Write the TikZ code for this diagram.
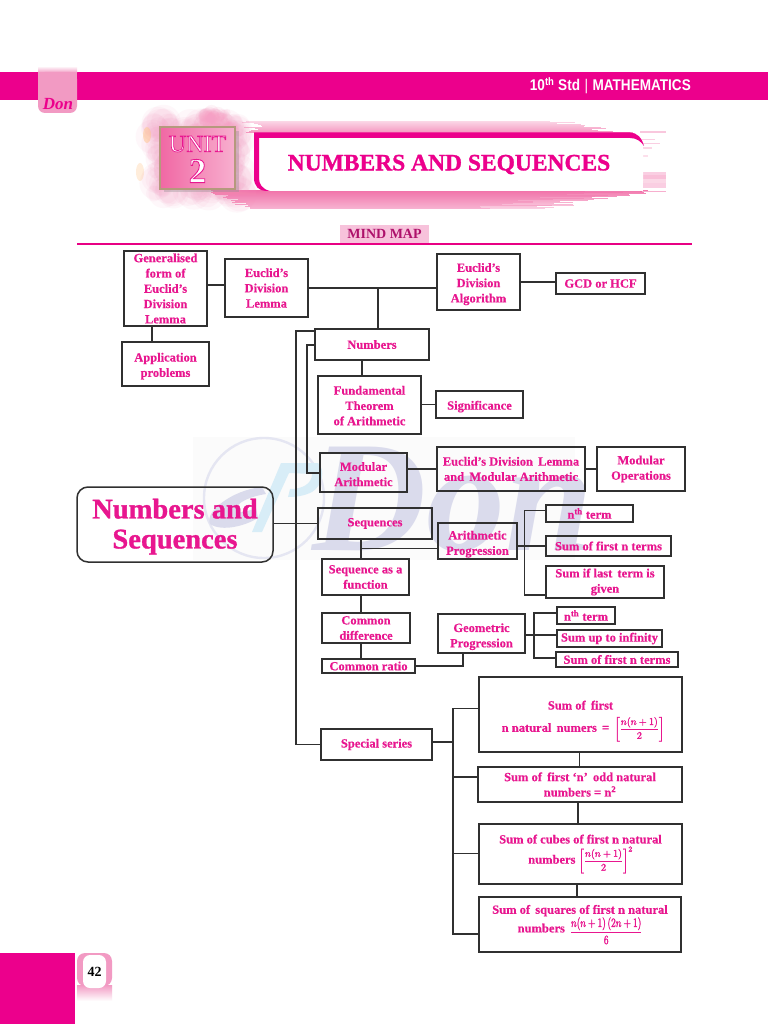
\documentclass[tikz,border=0pt]{standalone}
\usepackage{fontspec}
\usepackage{amsmath}
\usepackage{graphicx}
\setmainfont{Liberation Serif}
\newfontfamily\hdfont{Liberation Sans}
\definecolor{bandpink}{HTML}{EC008C}
\definecolor{tabpink}{HTML}{F29AC3}
\definecolor{txtpink}{HTML}{E8168F}
\definecolor{linegrey}{HTML}{303030}
\definecolor{wmgrey}{HTML}{DADBEC}
\definecolor{wmblue}{HTML}{D8EDF7}
\definecolor{brush}{HTML}{F0609F}
\newcommand\bfs[2]{\fontsize{#1}{#2}\selectfont\bfseries}
\newcommand\fb[1]{\addfontfeature{FakeBold=#1}}
\tikzset{
  boxn/.style={draw=linegrey,line width=1.5pt,inner sep=0pt,outer sep=0pt,align=center,text=txtpink,font=\bfs{12.5}{15.3}\fb{0.4}},
  wire/.style={draw=linegrey,line width=1.5pt},
  wirethick/.style={draw=linegrey,line width=1.9pt}
}
\newcommand\bx[7][]{\node[boxn,minimum width={(#5-#3)*1pt},minimum height={(#6-#4)*1pt},#1] (#2) at ({(#3+#5)/2},{(#4+#6)/2}) {#7};}
\newcommand\nth{n\textsuperscript{th}}
\newcommand\dn[1]{\rule{0pt}{#1pt}}
\newcommand\hv[1]{\special{pdf:code 2 Tr 0.3 w 0.91 0.09 0.56 RG}#1\special{pdf:code 0 Tr}}
\begin{document}
\begin{tikzpicture}[x=1pt,y=-1pt]
\useasboundingbox (0,0) rectangle (768,1024);
\fill[white] (0,0) rectangle (768,1024);
% watermark
\fill[black!1.5] (193,437) rectangle (575,560);
\draw[wmgrey!70,line width=2.4pt] (264,498) circle (60);
\fill[wmgrey] (262,487) .. controls (232,490) and (204,512) .. (210,524) .. controls (222,532) and (245,526) .. (258,518) -- (256,508) .. controls (246,512) and (238,514) .. (236,510) .. controls (236,502) and (252,496) .. (266,494) -- cycle;
\fill[wmblue] (281,463) -- (318,463) .. controls (326,470) and (322,486) .. (312,492) .. controls (304,496) and (296,497) .. (288,497) -- (290,489) .. controls (302,489) and (312,484) .. (312,474) -- (289,473) -- (262,532) -- (252,532) -- cycle;
\node[inner sep=0pt,text=wmgrey,font=\fontsize{158}{158}\selectfont\bfseries\itshape] (wm) at (453,500) {Don};
% header band
\fill[bandpink] (0,72) rectangle (768,100);
\shade[top color=white,bottom color=tabpink] (38,66) rectangle (77,73);
\fill[tabpink,rounded corners=7pt] (38,72) -- (38,113) -- (77,113) -- (77,72) -- cycle;
\fill[tabpink] (38,72) rectangle (77,90);
\node[inner sep=0pt,text=bandpink,font=\fontsize{17}{17}\selectfont\bfseries\itshape] (don) at (58,104) {Don};
\node[inner sep=0pt,text=white,anchor=east,font=\hdfont\fontsize{15.5}{16}\selectfont\bfseries] (hdr) at (691,86) {\scalebox{.875}[1]{10\textsuperscript{th} Std\,\,\textmd{|}\,\,MATHEMATICS}};
% brush
\pgfmathsetseed{42}
% upper strip
\foreach \i in {0,...,12}{
  \pgfmathsetmacro\yy{121+\i}
  \pgfmathsetmacro\xa{240+rnd*25}
  \pgfmathsetmacro\xb{540+\i*6+rnd*30}
  \pgfmathsetmacro\oo{.25+\i*.035}
  \fill[brush,opacity=\oo] (\xa,\yy) rectangle (\xb,\yy+1.2);
}
% lower strip
\foreach \i in {0,...,18}{
  \pgfmathsetmacro\yy{190+\i}
  \pgfmathsetmacro\xa{205+\i*2+rnd*15}
  \pgfmathsetmacro\xb{665-\i*6-rnd*40}
  \pgfmathsetmacro\oo{.85-\i*.03}
  \fill[brush,opacity=\oo] (\xa,\yy) rectangle (\xb,\yy+1.2);
  \pgfmathsetmacro\xc{\xb-20-rnd*60}
  \fill[brush,opacity=.25] (\xa,\yy) rectangle (\xc,\yy+1.2);
}
% right stubs
\foreach \ya/\yb/\xe/\o in {131/133/666/.35,139/140/655/.3,143/144/660/.3,147/149/652/.25,155/157/648/.2,172/175/666/.3,175/179/666/.4,179/183/666/.25,183/188/666/.3,191/192/666/.5}{
  \fill[brush,opacity=\o] (640,\ya) rectangle (\xe,\yb);
}
% watercolour
\foreach \i in {1,...,220}{
  \pgfmathsetmacro\cx{196+rnd*88-44}
  \pgfmathsetmacro\cy{158+rnd*74-37}
  \pgfmathsetmacro\r{7+rnd*12}
  \fill[brush!70,opacity=.07] (\cx,\cy) circle (\r);
}
\foreach \i in {1,...,40}{
  \pgfmathsetmacro\cx{215+rnd*24-12}
  \pgfmathsetmacro\cy{117+rnd*10-5}
  \pgfmathsetmacro\r{3+rnd*5}
  \fill[brush!60,opacity=.12] (\cx,\cy) circle (\r);
}
\fill[orange!45,opacity=.5] (147,135) ellipse (4 and 8);
\fill[orange!35,opacity=.4] (140,172) ellipse (4 and 9);
% banner
\fill[white,rounded corners=10pt] (259,138) -- (259,191) -- (643,191) -- (643,138) -- cycle;
\fill[white] (259,138) rectangle (275,170);
\fill[white] (620,170) rectangle (643,191);
\fill[bandpink] (254,132.5) -- (630,132.5) .. controls (637,132.5) and (642,138) .. (644,146) .. controls (641,141) and (636,138) .. (630,138) -- (259,138) -- (259,178) .. controls (259,184) and (262,189) .. (270,191) -- (266,191) .. controls (259,191) and (254,186) .. (254,178) -- cycle;
\node[inner sep=0pt,text=bandpink,font=\bfs{23.5}{24}\fb{1.2}] (title) at (449,164.5) {NUMBERS AND SEQUENCES};
% unit box
\fill[black!45,opacity=.35] (164,131) rectangle (239,192);
\shade[left color=brush!95,right color=brush!50,draw=brown!55!gray!80,line width=1.6pt] (160,127) rectangle (235,189);
\node[inner sep=0pt,text=white,font=\fontsize{24}{24}\selectfont] (unit) at (197.5,144) {\special{pdf:code 2 Tr 0.7 w 0.91 0.09 0.56 RG}UNIT\special{pdf:code 0 Tr}};
\node[inner sep=0pt,text=white,font=\fontsize{35}{35}\selectfont\bfseries] (two) at (197.5,171) {\special{pdf:code 2 Tr 0.9 w 0.91 0.09 0.56 RG}2\special{pdf:code 0 Tr}};
% mind map
\fill[tabpink!60] (340,225) rectangle (429,243);
\node[inner sep=0pt,text=txtpink!75!black,font=\fontsize{14}{14}\selectfont\bfseries] (mm) at (384.5,234) {MIND MAP};
\fill[bandpink!90!purple] (77,242.7) rectangle (692,244.7);
% boxes
\bx{gen}{124}{251}{207}{326}{Generalised\\form of\\Euclid's\\Division\\Lemma}
\bx{lem}{225}{259}{308}{317}{Euclid's\\Division\\Lemma}
\bx{app}{122}{342}{209}{386}{\dn{13}Application\\problems}
\bx{alg}{437}{254}{520}{310}{\dn{13}Euclid's\\Division\\Algorithm}
\bx{gcd}{556}{273}{645}{294}{GCD or HCF}
\bx{num}{315}{329}{429}{360}{Numbers}
\bx{fta}{318}{376}{421}{434}{\dn{10}Fundamental\\Theorem\\of Arithmetic}
\bx{sig}{436}{391}{523}{418}{\dn{13}Significance}
\bx{mod}{320}{453}{407}{492}{\dn{12}Modular\\Arithmetic}
\bx{edl}{437}{447}{585}{491}{Euclid's Division\, Lemma\\and\, Modular Arithmetic}
\bx{mop}{597}{447}{685}{491}{Modular\\Operations}
\node[draw=linegrey,line width=1.5pt,rounded corners=11pt,inner sep=0pt,outer sep=0pt,align=center,text=txtpink,font=\bfs{28.5}{30}\fb{1},minimum width=196pt,minimum height=75pt] (main) at (175,524.5) {\dn{24}Numbers and\\Sequences};
\bx{seq}{318}{508}{432}{539}{Sequences}
\bx{ap}{438}{523}{517}{559}{\dn{15}Arithmetic\\Progression}
\bx{at}{546}{505}{633}{522}{\nth{} term}
\bx{as}{546}{536}{671}{556}{Sum of first n terms}
\bx{al}{546}{566}{664}{598}{Sum if last\, term is\\given}
\bx{fn}{322}{559}{409}{595}{Sequence as a\\function}
\bx{cd}{322}{613}{410}{643}{Common\\difference}
\bx{cr}{322}{659}{415}{673}{Common ratio}
\bx{gp}{438}{614}{525}{653}{\dn{15}Geometric\\Progression}
\bx{gt}{557}{607}{615}{624}{\nth{} term}
\bx{gi}{557}{630}{662}{647}{Sum up to infinity}
\bx{gs}{556}{652}{678}{667}{Sum of first n terms}
\bx{sp}{321}{729}{432}{760}{Special series}
\bx{s1}{479}{677}{682}{752}{\rule{0pt}{22pt}Sum of\, first\\[7pt]\hspace*{5pt}n natural\, numers \,=\, \hv{$\scalebox{.85}{$\left[\dfrac{n(n+1)}{2}\right]$}$}}
\bx{s2}{478}{767}{682}{802}{Sum of\, first `n'\, odd natural\\numbers = n\textsuperscript{2}}
\bx{s3}{479}{824}{682}{884}{Sum of cubes of first n natural\\[2pt]numbers \hv{$\scalebox{.85}{$\left[\dfrac{n(n+1)}{2}\right]^{2}$}$}}
\bx{s4}{479}{897}{681}{952}{Sum of\, squares of first n natural\\numbers\, \hv{\raisebox{-3pt}{$\scalebox{.8}[1.05]{$\dfrac{n(n+1)\,(2n+1)}{6}$}$}}}
% connectors
\draw[wirethick] (gen.east |- 0,285) -- (lem.west |- 0,285);
\draw[wire] (gen.south -| 152,0) -- (app.north -| 152,0);
\draw[wire] (lem.east |- 0,288) -- (alg.west |- 0,288);
\draw[wire] (378,288) coordinate (j1) -- (num.north -| j1);
\draw[wire] (alg.east |- 0,282) -- (gcd.west |- 0,282);
\draw[wire] (num.west |- 0,331) -- (296,331) coordinate (b1) -- (b1 |- sp.west) -- (sp.west);
\draw[wire] (num.west |- 0,345) -- (307,345) coordinate (b2) -- (307,473) -- (mod.west |- 0,473);
\draw[wire] (num.south -| 362,0) -- (fta.north -| 362,0);
\draw[wire] (fta.east |- sig.west) -- (sig.west);
\draw[wire] (mod.east |- 0,469) -- (edl.west |- 0,469);
\draw[wire] (edl.east |- 0,469) -- (mop.west |- 0,469);
\draw[wire] (main.east |- seq.west) -- (seq.west);
\draw[wire] (seq.south -| 361,0) -- (fn.north -| 361,0);
\draw[wire] (361,548.5) coordinate (j2) -- (ap.west |- j2);
\draw[wirethick] (ap.east |- 0,546) -- (as.west |- 0,546);
\draw[wire] (at.west |- 0,510.5) -- (524.5,510.5) coordinate (b3) -- (b3 |- 0,595) -- (al.west |- 0,595);
\draw[wire] (fn.south -| 361,0) -- (cd.north -| 361,0);
\draw[wire] (cd.south -| 361,0) -- (cr.north -| 361,0);
\draw[wire] (cr.east |- 0,666) -- (463,666) coordinate (j3) -- (gp.south -| j3);
\draw[wire] (gp.east |- 0,635) -- (gi.west |- 0,635);
\draw[wire] (gt.west |- 0,613) -- (534,613) coordinate (b4) -- (b4 |- 0,658) -- (gs.west |- 0,658);
\draw[wire] (sp.east |- 0,742) -- (453,742);
\draw[wire] (s1.west |- 0,708.6) -- (453,708.6) coordinate (b5) -- (b5 |- 0,934) -- (s4.west |- 0,934);
\draw[wirethick] (453,777) -- (s2.west |- 0,777);
\draw[wire] (453,853.5) -- (s3.west |- 0,853.5);
\draw[wirethick] (s1.south -| 579.5,0) -- (s2.north -| 579.5,0);
\draw[wire] (s2.south -| 578,0) -- (s3.north -| 578,0);
\draw[wire] (s3.south -| 577,0) -- (s4.north -| 577,0);
% footer
\fill[bandpink] (0,953) rectangle (75,1024);
\shade[top color=tabpink,bottom color=white] (77,985) rectangle (112,1001);
\fill[tabpink,rounded corners=8pt] (77,986) -- (77,953) -- (112,953) -- (112,986) -- cycle;
\fill[white,rounded corners=7pt] (83,988) -- (83,955) -- (106,955) -- (106,988) -- cycle;
\node[inner sep=0pt,font=\bfs{14}{14},text=black] (pg) at (94.5,972) {42};
\end{tikzpicture}
\end{document}
